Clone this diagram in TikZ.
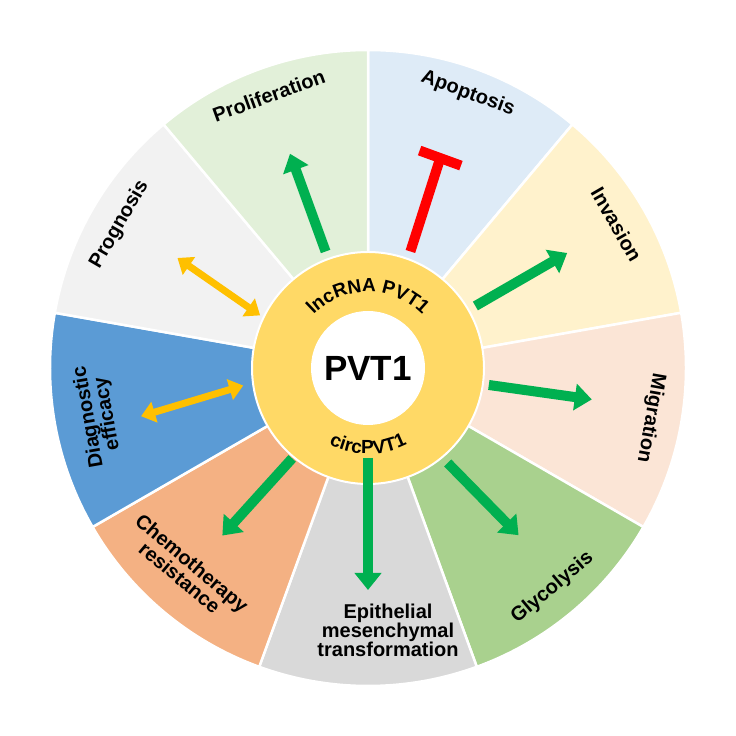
\documentclass[tikz,border=0pt]{standalone}
\usepackage{fontspec}
\setmainfont{Liberation Sans}
\usetikzlibrary{arrows.meta,decorations.text,calc}
\definecolor{cApo}{HTML}{DEEBF7}
\definecolor{cInv}{HTML}{FFF2CC}
\definecolor{cMig}{HTML}{FBE5D6}
\definecolor{cGly}{HTML}{A9D18E}
\definecolor{cEmt}{HTML}{D9D9D9}
\definecolor{cChe}{HTML}{F4B183}
\definecolor{cDia}{HTML}{5B9BD5}
\definecolor{cPro}{HTML}{F2F2F2}
\definecolor{cPrl}{HTML}{E2F0D9}
\definecolor{cRing}{HTML}{FFD966}
\definecolor{cGreen}{HTML}{00B050}
\definecolor{cGold}{HTML}{FFC000}
\definecolor{cRed}{HTML}{FF0000}
\tikzset{
  lab/.style={font=\fontsize{20}{22}\selectfont\bfseries,align=center},
  garrow/.style={cGreen,line width=10pt,-{Triangle[width=26pt,length=17pt]}},
  darrow/.style={cGold,line width=7pt,{Triangle[width=21pt,length=14pt]}-{Triangle[width=21pt,length=14pt]}},
}
\begin{document}
\begin{tikzpicture}[x=1pt,y=1pt]
\useasboundingbox (0,0) rectangle (736,736);
\begin{scope}[shift={(368,368)}]
\foreach \a/\c in {50/cApo,10/cInv,-30/cMig,-70/cGly,-110/cEmt,-150/cChe,170/cDia,130/cPro,90/cPrl}{
  \fill[\c,draw=white,line width=2.5pt] (0,0) -- (\a:318) arc[start angle=\a,delta angle=40,radius=318] -- cycle;
}
\fill[cRing,draw=white,line width=2pt] (0,0) circle (116);
\fill[white] (0,0) circle (57);
\node[font=\fontsize{35}{36}\selectfont\bfseries] (pvt) at (0,0) {PVT1};
\path[decorate,decoration={text along path,text align=center,
  text={|\fontsize{19}{20}\selectfont\bfseries|lncRNA PVT1}}]
  (165:76) arc[start angle=165,end angle=15,radius=76];
\path[decorate,decoration={text along path,text align=center,
  text={|\fontsize{19}{20}\selectfont\bfseries|circPVT1}}]
  (195:86) arc[start angle=195,end angle=345,radius=86];
% labels
\node[lab,rotate=-20] (apo) at (70:292) {Apoptosis};
\node[lab,rotate=-60] (inv) at (30:287) {Invasion};
\node[lab,rotate=-100] (mig) at (-10:287) {Migration};
\node[lab,rotate=40] (gly) at (-50:287) {Glycolysis};
\node[lab,rotate=0] (emt) at (20,-262) {Epithelial\\[-3pt]mesenchymal\\[-3pt]transformation};
\node[lab,rotate=-40] (che) at (-132:272) {Chemotherapy\\[-3pt]resistance};
\node[lab,rotate=100] (dia) at (190:274) {Diagnostic\\[-3pt]efficacy};
\node[lab,rotate=60] (pro) at (150:287) {Prognosis};
\node[lab,rotate=20] (prl) at (110:290) {Proliferation};
% arrows
\coordinate (s1) at (110:124); \coordinate (e1) at (110:228);
\draw[garrow] (s1) -- (e1);
\coordinate (s2) at (70:124); \coordinate (e2) at (71:222);
\coordinate (b1) at ($(e2)+(160:22)$); \coordinate (b2) at ($(e2)+(-20:22)$);
\draw[cRed,line width=10pt] (s2) -- (e2);
\draw[cRed,line width=10pt] (b1) -- (b2);
\coordinate (s3) at (30:124); \coordinate (e3) at (30:230);
\draw[garrow] (s3) -- (e3);
\coordinate (s4) at (-8:122); \coordinate (e4) at (-8:226);
\draw[garrow] (s4) -- (e4);
\coordinate (s5) at (-50:124); \coordinate (e5) at (-48:225);
\draw[garrow] (s5) -- (e5);
\coordinate (s6) at (0,-90); \coordinate (e6) at (0,-222);
\draw[garrow] (s6) -- (e6);
\coordinate (s7) at (-130:118); \coordinate (e7) at (-131:222);
\draw[garrow] (s7) -- (e7);
\coordinate (s8) at (188:126); \coordinate (e8) at (192:232);
\draw[darrow] (s8) -- (e8);
\coordinate (s9) at (154:120); \coordinate (e9) at (150:220);
\draw[darrow] (s9) -- (e9);
\end{scope}
\end{tikzpicture}
\end{document}
